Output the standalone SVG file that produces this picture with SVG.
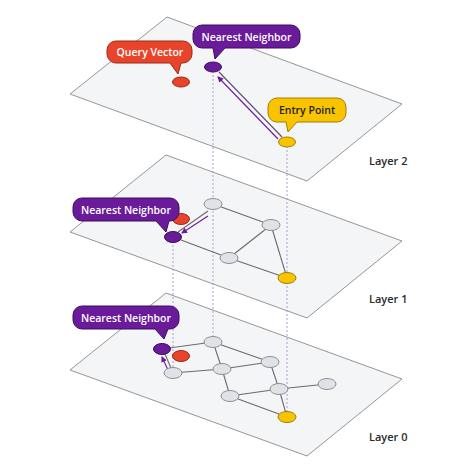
<svg xmlns="http://www.w3.org/2000/svg" width="474" height="474" viewBox="0 0 474 474">
<style>
.plane{fill:#f4f5f7;stroke:#8a8a8a;stroke-width:0.9}
.vdash{stroke:#a98fd6;stroke-width:0.9;stroke-dasharray:2 2;fill:none}
.edge{stroke:#6b6b6b;stroke-width:1.1;fill:none}
.arr{stroke:#6a1b9a;stroke-width:1.1;fill:none;marker-end:url(#ah)}
.gray{fill:#dfe2e6;stroke:#8c8f93;stroke-width:1}
.purple{fill:#6a1b9a;stroke:#3f0d5e;stroke-width:1}
.red{fill:#e8442b;stroke:#9e2a16;stroke-width:1}
.yellow{fill:#f8c400;stroke:#a27f00;stroke-width:1}
.bt{font-family:"Open Sans","Noto Sans",sans-serif;font-size:10.5px;font-weight:600;text-anchor:middle}
.lt{font-family:"Open Sans","Noto Sans",sans-serif;font-size:11px;font-weight:600;fill:#2a2a2a}
</style>
<defs>
<marker id="ah" markerWidth="6" markerHeight="6" refX="5" refY="3" orient="auto" markerUnits="userSpaceOnUse">
<path d="M0,0 L6,3 L0,6 Z" fill="#6a1b9a"/>
</marker>
</defs>
<g id="planes">
<polygon id="plane-layer0" class="plane" points="166,293 402,379 307,456 70,370"/>
<polygon id="plane-layer1" class="plane" points="166,155 402,241 307,318 70,232"/>
<polygon id="plane-layer2" class="plane" points="167,17 402,104 307,181 70,94"/>
</g>
<g id="layer-labels">
<text class="lt" x="369" y="165">Layer 2</text>
<text class="lt" x="369" y="303">Layer 1</text>
<text class="lt" x="369" y="441">Layer 0</text>
</g>
<g id="connectors">
<line class="vdash" x1="213" y1="67" x2="213" y2="342"/>
<line class="vdash" x1="287" y1="142" x2="287" y2="417"/>
<line class="vdash" x1="173" y1="237" x2="173" y2="373"/>
<line class="edge" x1="282" y1="137" x2="219" y2="72" style="stroke:#5e4d6e"/>
<line class="arr" x1="278" y1="139" x2="218" y2="77"/>
<line class="edge" x1="213" y1="204" x2="271" y2="225"/>
<line class="edge" x1="271" y1="225" x2="229" y2="258"/>
<line class="edge" x1="271" y1="225" x2="287" y2="278"/>
<line class="edge" x1="229" y1="258" x2="287" y2="278"/>
<line class="edge" x1="173" y1="237" x2="229" y2="258"/>
<line class="edge" x1="208" y1="211" x2="178" y2="232"/>
<line class="arr" x1="208" y1="216" x2="182" y2="233"/>
<line class="edge" x1="162" y1="349" x2="213" y2="342"/>
<line class="edge" x1="173" y1="373" x2="222" y2="369"/>
<line class="edge" x1="213" y1="342" x2="222" y2="369"/>
<line class="edge" x1="213" y1="342" x2="270" y2="362"/>
<line class="edge" x1="222" y1="369" x2="270" y2="362"/>
<line class="edge" x1="222" y1="369" x2="230" y2="396"/>
<line class="edge" x1="270" y1="362" x2="279" y2="389"/>
<line class="edge" x1="279" y1="389" x2="327" y2="384"/>
<line class="edge" x1="230" y1="396" x2="279" y2="389"/>
<line class="edge" x1="279" y1="389" x2="287" y2="417"/>
<line class="edge" x1="230" y1="396" x2="287" y2="417"/>
<line class="edge" x1="173" y1="373" x2="165" y2="354"/>
<line class="arr" x1="168" y1="370" x2="162" y2="357"/>
</g>
<g id="layer2-nodes">
<ellipse id="l2-query" class="red" cx="181" cy="82" rx="8.5" ry="5"/>
<ellipse id="l2-nn" class="purple" cx="213" cy="67" rx="8.5" ry="5"/>
<ellipse id="l2-entry" class="yellow" cx="287" cy="142" rx="8.5" ry="5"/>
</g>
<g id="layer1-nodes">
<ellipse id="l1-query" class="red" cx="181" cy="219" rx="8.5" ry="5.5"/>
<ellipse id="l1-a" class="gray" cx="213" cy="204" rx="9" ry="5.5"/>
<ellipse id="l1-b" class="gray" cx="271" cy="225" rx="9" ry="5.5"/>
<ellipse id="l1-c" class="gray" cx="229" cy="258" rx="9" ry="5.5"/>
<ellipse id="l1-entry" class="yellow" cx="287" cy="278" rx="9" ry="5.5"/>
<ellipse id="l1-nn" class="purple" cx="173" cy="237" rx="8.5" ry="5.5"/>
</g>
<g id="layer0-nodes">
<ellipse id="l0-query" class="red" cx="181" cy="356" rx="8.5" ry="5.5"/>
<ellipse id="l0-nn" class="purple" cx="162" cy="349" rx="8.5" ry="5.5"/>
<ellipse id="l0-a" class="gray" cx="173" cy="373" rx="9" ry="5.5"/>
<ellipse id="l0-b" class="gray" cx="213" cy="342" rx="9" ry="5.5"/>
<ellipse id="l0-c" class="gray" cx="222" cy="369" rx="9" ry="5.5"/>
<ellipse id="l0-d" class="gray" cx="270" cy="362" rx="9" ry="5.5"/>
<ellipse id="l0-e" class="gray" cx="327" cy="384" rx="9" ry="5.5"/>
<ellipse id="l0-f" class="gray" cx="279" cy="389" rx="9" ry="5.5"/>
<ellipse id="l0-g" class="gray" cx="230" cy="396" rx="9" ry="5.5"/>
<ellipse id="l0-entry" class="yellow" cx="287" cy="417" rx="9" ry="5.5"/>
</g>
<g id="callout-query-vector">
<path class="red" d="M116,41 H183 A9 9 0 0 1 192,50 V54 A9 9 0 0 1 183,63 H181 L178,74 L170,63 H116 A9 9 0 0 1 107,54 V50 A9 9 0 0 1 116,41 Z"/>
<text class="bt" x="150" y="56" fill="#fff">Query Vector</text>
</g>
<g id="callout-nn-l2">
<path class="purple" d="M202,25 H291 A9 9 0 0 1 300,34 V39 A9 9 0 0 1 291,48 H225 L215,59 L213,48 H202 A9 9 0 0 1 193,39 V34 A9 9 0 0 1 202,25 Z"/>
<text class="bt" x="246.5" y="40.5" fill="#fff">Nearest Neighbor</text>
</g>
<g id="callout-entry">
<path class="yellow" d="M277,98 H337 A9 9 0 0 1 346,107 V113 A9 9 0 0 1 337,122 H297 L288,132 L286,122 H277 A9 9 0 0 1 268,113 V107 A9 9 0 0 1 277,98 Z"/>
<text class="bt" x="307" y="114" fill="#222">Entry Point</text>
</g>
<g id="callout-nn-l1">
<path class="purple" d="M82,198 H170 A9 9 0 0 1 179,207 V212 A9 9 0 0 1 170,221 H169 L166,232 L156,221 H82 A9 9 0 0 1 73,212 V207 A9 9 0 0 1 82,198 Z"/>
<text class="bt" x="126" y="213.5" fill="#fff">Nearest Neighbor</text>
</g>
<g id="callout-nn-l0">
<path class="purple" d="M82,306 H170 A9 9 0 0 1 179,315 V320 A9 9 0 0 1 170,329 H168 L164,339 L155,329 H82 A9 9 0 0 1 73,320 V315 A9 9 0 0 1 82,306 Z"/>
<text class="bt" x="126" y="321.5" fill="#fff">Nearest Neighbor</text>
</g>
</svg>
